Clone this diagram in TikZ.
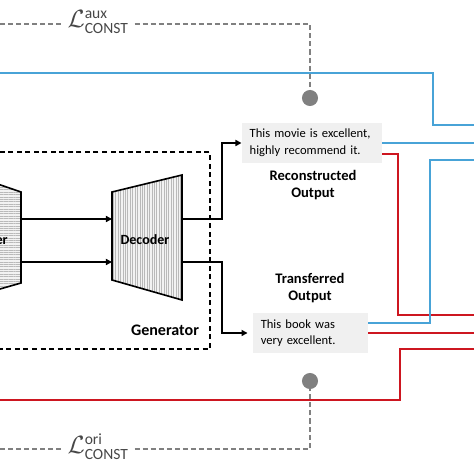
\documentclass[tikz,border=0pt]{standalone}
\usepackage{amsmath}
\usepackage{fontspec}
\setmainfont{Carlito}
\usetikzlibrary{arrows.meta,patterns.meta}
\definecolor{lossgray}{RGB}{128,128,128}
\definecolor{pathblue}{RGB}{72,163,215}
\definecolor{pathred}{RGB}{205,22,32}
\newcommand{\lossname}[1]{$\mathcal{L}^{\text{\fontsize{15.5}{15.5}\selectfont #1}}_{\text{\fontsize{15.5}{15.5}\selectfont CONST}}$}

\begin{document}
\begin{tikzpicture}[x=0.35cm,y=0.35cm,
	net/.style={line width=1.6pt},
	flow/.style={line width=1.6pt,-{Triangle[length=6pt,width=6pt]}},
	blueline/.style={line width=2pt,pathblue},
	redline/.style={line width=2pt,pathred},
	lossline/.style={line width=1.8pt,lossgray,dash pattern=on 5pt off 3pt},
	lossdot/.style={circle,fill=lossgray,minimum size=16pt,inner sep=0pt},
	losslabel/.style={text=black!72,font=\fontsize{27}{27}\selectfont,inner xsep=6pt},
	sentence/.style={fill=gray!12,align=left,minimum height=40pt,inner xsep=8pt,inner ysep=4pt,font=\fontsize{12.5}{16.5}\selectfont},
	caption/.style={align=center,font=\bfseries\fontsize{14.5}{17}\selectfont}]
			\useasboundingbox (0,0) rectangle (47.4,47.4);
			\clip (0,0) rectangle (47.4,47.4);
			
			\draw[line width=1.4pt,dash pattern=on 5pt off 3.5pt] (-1,32.2) rectangle (21.0,12.5);
			\node[font=\bfseries\fontsize{16}{17}\selectfont] (gen) at (16.5,14.4) {Generator};
			
			\draw[net,preaction={fill=gray!10},pattern={Lines[angle=0,distance=2.4pt,line width=0.5pt]},pattern color=gray!55] (2.1,28.2) -- (2.1,19.1) -- (-4.9,17.1) -- (-4.9,30.6) -- cycle;
			\node[caption,font=\bfseries\fontsize{14}{17}\selectfont] (enc) at (-1.6,23.4) {Encoder};
			\coordinate (enc1) at (2.1,25.5);
			\coordinate (enc2) at (2.1,21.2);
			
			\draw[net,preaction={fill=gray!10},pattern={Lines[angle=90,distance=2.4pt,line width=0.5pt]},pattern color=gray!55] (11.2,28.2) -- (18.2,29.9) -- (18.2,17.4) -- (11.2,19.4) -- cycle;
			\node[caption,font=\bfseries\fontsize{14}{17}\selectfont] (dec) at (14.5,23.4) {Decoder};
			\coordinate (dec1) at (11.2,25.5);
			\coordinate (dec2) at (11.2,21.2);
			\coordinate (dout1) at (18.2,25.5);
			\coordinate (dout2) at (18.2,21.2);
			
			\draw[flow] (enc1) -- (dec1);
			\draw[flow] (enc2) -- (dec2);
			
			\node[sentence,text width=124pt] (recon) at (31.2,33.1) {This movie is excellent,\\highly recommend it.};
			\node[sentence,text width=99pt] (trans) at (31.05,14.1) {This book was\\very excellent.};
			\node[caption] (reconlabel) at (31.3,28.85) {Reconstructed\\Output};
			\node[caption] (translabel) at (31.0,18.55) {Transferred\\Output};
			
			\draw[flow] (dout1) -- ++(4,0) |- (recon.west);
			\draw[flow,shorten >=5pt] (dout2) -- ++(4,0) |- (trans.west);
			
			\draw[blueline] (0,40.1) -- (43.3,40.1) -- (43.3,34.9) -- (47.4,34.9);
			\draw[blueline] (recon.east) -- ++(9.2,0);
			\draw[redline] ([yshift=-11pt]recon.east) -- ++(1.6,0) |- (47.4,15.9);
			\draw[blueline] ([yshift=10pt]trans.east) -- ++(6.2,0) |- (47.4,31.4);
			\draw[redline] (trans.east) -- ++(10.6,0);
			\draw[redline] (47.4,12.5) -| (40.0,7.4) -- (0,7.4);
			
			\coordinate (auxrow) at (0,45.0);
			\node[losslabel] (aux) at (9.8,45.2) {\lossname{aux}};
			\node[lossdot] (auxdot) at (31.0,37.6) {};
			\draw[lossline] (auxrow) -- (aux.west |- auxrow);
			\draw[lossline] (aux.east |- auxrow) -- (auxdot.center |- auxrow) -- (auxdot);
			
			\coordinate (orirow) at (0,2.5);
			\node[losslabel] (ori) at (9.8,2.7) {\lossname{ori}};
			\node[lossdot] (oridot) at (31.0,9.3) {};
			\draw[lossline] (orirow) -- (ori.west |- orirow);
			\draw[lossline] (ori.east |- orirow) -- (oridot.center |- orirow) -- (oridot);
\end{tikzpicture}
\end{document}
